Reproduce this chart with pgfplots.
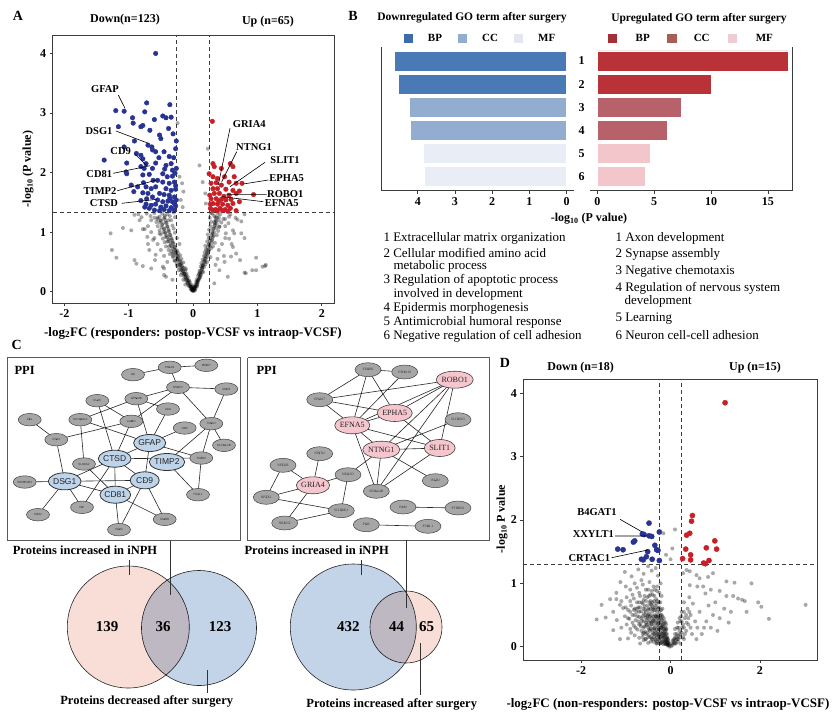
\documentclass[border=0pt]{standalone}
\usepackage{fontspec}
\setmainfont{Liberation Serif}
\newfontfamily\arialfont{Liberation Sans}
\usepackage{pgfplots}
\pgfplotsset{compat=1.18}
\usetikzlibrary{shapes.geometric}
\newcommand\fs[1]{\fontsize{#1}{#1}\selectfont}

\definecolor{ablue}{RGB}{40,52,148}
\definecolor{ared}{RGB}{200,32,38}
\definecolor{bpB}{RGB}{74,122,181}
\definecolor{ccB}{RGB}{147,173,208}
\definecolor{mfB}{RGB}{233,238,246}
\definecolor{bpR}{RGB}{185,50,55}
\definecolor{ccR}{RGB}{183,98,106}
\definecolor{mfR}{RGB}{243,198,203}
\definecolor{lgbpB}{RGB}{62,108,170}
\definecolor{lgmfB}{RGB}{228,232,238}
\definecolor{lgbpR}{RGB}{165,47,56}
\definecolor{lgccR}{RGB}{166,94,85}
\definecolor{lgmfR}{RGB}{237,205,209}
\definecolor{vpink}{RGB}{248,222,214}
\definecolor{vblue}{RGB}{196,212,232}
\definecolor{nblue}{RGB}{190,212,234}
\definecolor{npink}{RGB}{246,198,206}
\definecolor{frame}{RGB}{60,60,60}

\tikzset{
  gnode/.style={ellipse, draw=black!75, fill=gray!70, line width=0.5pt, inner sep=0pt,
    minimum width=23pt, minimum height=12.5pt, font=\arialfont\fs{3}, text=black!80},
  bnode/.style={ellipse, draw=black!80, fill=nblue, line width=0.8pt, inner sep=0pt,
    minimum width=29pt, minimum height=17pt, font=\arialfont\fs{8.5}, text=black!85},
  rgnode/.style={ellipse, draw=black!75, fill=gray!70, line width=0.5pt, inner sep=0pt,
    minimum width=26pt, minimum height=14pt, font=\fs{3.5}, text=black!80},
  pnode/.style={ellipse, draw=black!75, fill=npink, line width=0.6pt, inner sep=0pt,
    minimum width=31pt, minimum height=17pt, font=\fs{8}, text=black!85},
}
\pgfplotsset{
  greypt/.style={only marks, mark=*, mark size=2pt, mark options={fill=black, draw opacity=0, fill opacity=0.34}},
  sigpt/.style={only marks, mark=*, mark size=#1},
}

\begin{document}
\begin{tikzpicture}
\path[use as bounding box] (0pt,0pt) rectangle (832pt,720pt);

% ---------- A: volcano, responders
\begin{axis}[at={(52.7pt,417pt)}, anchor=south west, scale only axis,
  width=281.3pt, height=268pt,
  xmin=-2.18, xmax=2.19, ymin=-0.19, ymax=4.31,
  xtick={-2,-1,0,1,2}, xticklabels={-2,-1,0,1,2},
  ytick={0,1,2,3,4}, yticklabels={0,1,2,3,4},
  tick pos=left, tick align=outside, major tick length=3pt,
  ticklabel style={font=\bfseries\fs{12}},
  axis line style={frame, line width=0.8pt}, tick style={frame, line width=0.6pt}]
% not significant
\addplot[greypt] coordinates {
(-1.28,0.98) (-1.09,1.07) (-0.96,1.03) (-0.78,1.05) (-0.71,0.92) (-1.26,0.70) (-1.19,0.57) (-0.91,0.53)
(-0.88,0.47) (-0.78,0.43) (-0.65,0.39) (-0.45,0.39) (-0.32,0.20) (-0.45,0.28) (-0.91,1.29) (-0.83,1.20)
(-0.65,1.20) (-0.52,0.98) (-0.62,0.87) (-0.68,0.70) (-0.59,0.53) (-0.47,0.42) (-0.42,0.25) (-0.32,0.64)
(0.56,0.89) (0.62,0.75) (0.67,0.64) (0.73,0.53) (0.82,0.31) (0.98,0.57) (1.08,0.42) (1.13,0.45) (0.92,0.36)
(0.80,0.32) (0.98,0.36) (1.12,0.43) (0.80,0.90) (0.64,0.98) (0.59,0.59) (0.49,0.50) (0.41,0.36) (0.54,0.25)
(0.33,0.14) (0.33,1.17) (0.41,1.09) (0.51,0.98) (0.62,1.03) (0.75,0.98) (0.56,1.26) (0.69,1.21)
(-0.24,2.83) (0.10,2.12) (0.23,2.40) (0.15,1.84) (-0.21,1.93) (-0.17,1.82) (-0.15,1.68) (0.19,1.65)
(-0.19,1.54) (0.20,1.48) (-0.16,1.42)
(-0.85,1.30) (-0.80,1.25) (-0.72,1.31) (-0.66,1.27) (-0.60,1.32) (-0.55,1.22) (-0.44,1.28) (-0.38,1.20)
(-0.30,1.33) (0.28,1.32) (0.35,1.25) (0.42,1.30) (0.50,1.22) (0.58,1.30) (0.66,1.24) (0.75,1.18) (0.80,1.30)
(0,0.02) (-0.02,0.04) (0.02,0.03) (-0.04,0.06) (0.04,0.05) (-0.01,0.08) (0.01,0.07) (-0.06,0.10) (0.06,0.09)
(-0.03,0.12) (0.03,0.11) (-0.08,0.14) (0.07,0.13) (-0.05,0.16) (0.05,0.17)
(-0.12,0.20) (-0.09,0.22) (-0.06,0.19) (0.06,0.21) (0.09,0.20) (0.11,0.24) (-0.14,0.26) (-0.11,0.28)
(-0.08,0.25) (0.08,0.27) (0.12,0.29) (-0.17,0.31) (-0.13,0.30)
(-0.19,0.36) (-0.15,0.34) (-0.11,0.38) (0.10,0.35) (0.14,0.37) (0.16,0.33) (-0.22,0.41) (-0.17,0.43)
(-0.13,0.40) (0.12,0.42) (0.16,0.44) (-0.25,0.47) (-0.20,0.46) (-0.15,0.49) (0.13,0.48) (0.19,0.46)
(0.22,0.50) (-0.29,0.52)
(-0.24,0.53) (-0.18,0.55) (0.15,0.54) (0.20,0.56) (-0.31,0.58) (-0.26,0.60) (-0.20,0.61) (0.17,0.60)
(0.23,0.62) (0.27,0.58) (-0.36,0.63) (-0.30,0.66) (-0.23,0.65) (0.18,0.66) (0.24,0.68) (-0.38,0.70)
(-0.32,0.72) (-0.25,0.69) (0.20,0.71) (0.28,0.73)
(-0.42,0.76) (-0.35,0.78) (-0.28,0.75) (-0.21,0.80) (0.19,0.77) (0.25,0.79) (0.31,0.76) (-0.44,0.83)
(-0.38,0.85) (-0.31,0.82) (0.22,0.84) (0.29,0.86) (0.34,0.82) (-0.47,0.89) (-0.40,0.91) (-0.33,0.88)
(-0.25,0.90) (0.24,0.90) (0.31,0.92)
(-0.50,0.96) (-0.43,0.98) (-0.36,0.95) (-0.28,0.99) (0.23,0.96) (0.30,0.98) (0.37,0.95) (-0.52,1.03)
(-0.45,1.05) (-0.38,1.02) (-0.30,1.06) (0.25,1.04) (0.32,1.06) (0.39,1.02) (-0.55,1.10) (-0.48,1.12)
(-0.40,1.09) (-0.32,1.11) (0.27,1.10) (0.34,1.12) (0.41,1.09)
(-0.57,1.17) (-0.50,1.19) (-0.42,1.16) (-0.34,1.20) (0.28,1.17) (0.36,1.19) (0.44,1.16) (-0.60,1.24)
(-0.52,1.26) (-0.45,1.23) (-0.36,1.27) (-0.28,1.25) (0.26,1.24) (0.33,1.27) (0.40,1.25) (0.47,1.22)
(-0.48,1.31) (-0.40,1.30) (0.30,1.31) (0.38,1.32)
(-0.10,0.30) (-0.16,0.40) (-0.20,0.52) (-0.27,0.64) (-0.33,0.76) (-0.38,0.88) (-0.43,1.00) (-0.47,1.14)
(0.09,0.30) (0.14,0.40) (0.18,0.52) (0.22,0.64) (0.26,0.76) (0.30,0.88) (0.33,1.00) (0.37,1.14)
(-0.07,0.18) (0.07,0.17) (-0.03,0.09) (0.03,0.08) (-0.12,0.35) (-0.18,0.48) (-0.23,0.58) (-0.29,0.70)
(-0.35,0.82) (-0.41,0.94) (-0.45,1.06) (-0.50,1.20) (0.11,0.32) (0.15,0.44) (0.21,0.58) (0.25,0.70)
(0.29,0.82) (0.32,0.94) (0.36,1.07) (0.40,1.20)
(-0.60,0.90) (-0.55,0.80) (-0.50,0.70) (-0.45,0.60) (0.40,0.70) (0.45,0.80) (0.50,0.90) (0.38,0.55)
(-0.65,1.00) (-0.70,1.10) (0.50,1.10) (0.55,1.15) (-0.40,0.50) (0.35,0.45) (-0.70,0.80) (0.60,0.80)
(-0.75,1.05) (-0.58,0.62) (0.48,0.60)
(-0.01,0.03) (0.01,0.05) (-0.03,0.07) (0.03,0.06) (-0.05,0.11) (0.05,0.12) (-0.07,0.15) (0.06,0.15)
(-0.09,0.19) (0.08,0.19) (-0.11,0.24) (0.10,0.23) (-0.14,0.30) (0.12,0.27) (-0.17,0.37) (0.14,0.33)
(-0.21,0.45) (0.17,0.41) (-0.25,0.55) (0.19,0.50)
(-0.07,0.10) (-0.09,0.15) (-0.10,0.20) (-0.12,0.25) (-0.14,0.30) (-0.16,0.35) (-0.18,0.40) (-0.19,0.45)
(-0.21,0.50) (-0.23,0.55) (-0.24,0.60) (-0.26,0.65) (-0.27,0.70) (-0.29,0.75) (-0.30,0.80) (-0.32,0.85)
(-0.34,0.90) (-0.35,0.95) (-0.37,1.00) (-0.38,1.05) (-0.40,1.10) (-0.41,1.15) (-0.43,1.20) (-0.44,1.25)
(-0.12,0.12) (-0.15,0.20) (-0.19,0.28) (-0.22,0.36) (-0.25,0.44) (-0.28,0.52) (-0.31,0.60) (-0.34,0.68)
(-0.37,0.76) (-0.40,0.84) (-0.43,0.92) (-0.46,1.00) (-0.49,1.08) (-0.52,1.16) (-0.55,1.24)
(0.06,0.10) (0.07,0.15) (0.08,0.20) (0.10,0.25) (0.11,0.30) (0.12,0.35) (0.14,0.40) (0.15,0.45)
(0.17,0.50) (0.18,0.55) (0.19,0.60) (0.21,0.65) (0.22,0.70) (0.23,0.75) (0.25,0.80) (0.26,0.85)
(0.27,0.90) (0.29,0.95) (0.30,1.00) (0.31,1.05) (0.33,1.10) (0.34,1.15) (0.35,1.20) (0.37,1.25)
(0,0.01) (-0.01,0.02) (0.01,0.02) (0,0.04) (-0.02,0.06) (0.02,0.07) (-0.03,0.03) (0.03,0.02) (-0.04,0.09)
(0.04,0.09)
};
\addplot[frame, line width=0.9pt, dash pattern=on 4pt off 3pt] coordinates {(-0.26,-0.19) (-0.26,4.31)};
\addplot[frame, line width=0.9pt, dash pattern=on 4pt off 3pt] coordinates {(0.25,-0.19) (0.25,4.31)};
\addplot[frame, line width=0.9pt, dash pattern=on 4pt off 3pt] coordinates {(-2.18,1.33) (2.19,1.33)};
% down
\addplot[sigpt=2.3pt, color=ablue] coordinates {
(-0.58,4.00) (-1.20,3.04) (-1.07,3.03) (-0.72,3.17) (-0.36,3.14) (-0.75,3.02) (-0.94,2.92) (-0.93,2.83)
(-0.78,2.79) (-0.81,2.77) (-0.60,2.89) (-0.47,2.95) (-0.42,2.92) (-0.34,2.93) (-1.16,2.77) (-0.67,2.71)
(-0.38,2.74) (-0.52,2.63) (-0.31,2.65) (-0.91,2.53) (-0.70,2.46) (-0.64,2.43) (-0.50,2.57) (-0.26,2.53)
(-1.07,2.43) (-0.63,2.38) (-0.58,2.35) (-0.88,2.32) (-0.81,2.29) (-0.45,2.35) (-0.37,2.27) (-1.38,2.21)
(-0.78,2.23) (-0.73,2.15) (-1.03,2.16) (-0.58,2.16) (-0.42,2.12) (-0.34,2.15) (-0.81,2.10) (-0.76,2.07)
(-0.63,2.07) (-1.04,2.01) (-1.03,1.98) (-0.32,2.04) (-0.26,2.07) (-0.47,1.98) (-0.78,1.96) (-0.68,1.97)
(-0.40,1.93) (-0.32,1.94) (-0.55,1.87) (-0.47,1.84) (-0.62,1.87) (-0.77,1.83) (-0.96,1.79) (-0.37,1.82)
(-0.29,1.84) (-0.86,1.76) (-0.73,1.76) (-0.65,1.73) (-0.58,1.76) (-0.42,1.73) (-0.34,1.70) (-0.27,1.72)
(-0.92,1.68) (-0.78,1.66) (-0.70,1.65) (-0.52,1.65) (-0.45,1.63) (-0.37,1.62) (-0.29,1.59) (-0.63,1.59)
(-0.81,1.53) (-0.72,1.56) (-0.55,1.54) (-0.47,1.51) (-0.39,1.52) (-0.32,1.51) (-0.26,1.54) (-0.73,1.47)
(-0.65,1.45) (-0.58,1.47) (-0.50,1.42) (-0.42,1.44) (-0.34,1.41) (-0.27,1.44) (-0.60,1.37) (-0.52,1.36)
(-0.45,1.38) (-0.37,1.36) (-0.29,1.37) (-0.75,1.42) (-0.68,1.40) (-0.29,1.48) (-0.36,1.57) (-0.27,1.78)
(-0.28,1.99) (-0.30,2.25) (-0.27,2.40) (-0.44,2.06) (-0.53,2.25)
};
% up
\addplot[sigpt=2.3pt, color=ared] coordinates {
(0.30,2.86) (0.31,2.15) (0.33,2.10) (0.58,2.15) (0.62,2.10) (0.44,2.07) (0.25,1.98) (0.31,1.93) (0.38,1.90)
(0.49,1.93) (0.64,1.93) (0.56,1.84) (0.67,1.82) (0.76,1.82) (0.28,1.82) (0.36,1.83) (0.44,1.79) (0.31,1.73)
(0.38,1.73) (0.51,1.72) (0.62,1.70) (0.72,1.69) (0.94,1.63) (0.33,1.65) (0.41,1.65) (0.56,1.62) (0.67,1.65)
(0.28,1.56) (0.36,1.56) (0.44,1.55) (0.51,1.54) (0.59,1.55) (0.72,1.51) (0.31,1.48) (0.38,1.47) (0.46,1.47)
(0.54,1.45) (0.62,1.48) (0.27,1.40) (0.35,1.38) (0.42,1.40) (0.50,1.38) (0.58,1.40) (0.67,1.36) (0.31,1.37)
(0.38,1.36) (0.46,1.36) (0.54,1.35) (0.26,1.62) (0.27,1.47) (0.48,1.60) (0.40,1.52)
};
\end{axis}

% ---------- B left: downregulated GO terms
\begin{axis}[at={(381.7pt,529.3pt)}, anchor=south west, scale only axis,
  width=192.3pt, height=143.7pt,
  xmin=-4.97, xmax=0.2, ymin=0.38, ymax=6.62,
  axis x line*=bottom, axis y line*=left, axis line style={-, frame, line width=0.8pt},
  xtick={-4,-3,-2,-1,0}, xticklabels={4,3,2,1,0}, ytick=\empty,
  tick align=outside, major tick length=3pt, tick style={frame, line width=0.6pt},
  ticklabel style={font=\bfseries\fs{12}}]
\addplot[xbar, bar shift=0pt, bar width=0.87, fill=bpB, draw=white, line width=0.6pt] coordinates {(-4.62,6) (-4.53,5)};
\addplot[xbar, bar shift=0pt, bar width=0.87, fill=ccB, draw=white, line width=0.6pt] coordinates {(-4.22,4) (-4.19,3)};
\addplot[xbar, bar shift=0pt, bar width=0.87, fill=mfB, draw=white, line width=0.6pt] coordinates {(-3.84,2) (-3.82,1)};
\end{axis}

% ---------- B right: upregulated GO terms
\begin{axis}[at={(590pt,529.3pt)}, anchor=south west, scale only axis,
  width=202.7pt, height=144pt,
  xmin=-0.65, xmax=17.18, ymin=0.38, ymax=6.62,
  axis x line*=bottom, axis y line*=right, axis line style={-, frame, line width=0.8pt},
  xtick={0,5,10,15}, xticklabels={0,5,10,15}, ytick=\empty,
  tick align=outside, major tick length=3pt, tick style={frame, line width=0.6pt},
  ticklabel style={font=\bfseries\fs{12}}]
\addplot[xbar, bar shift=0pt, bar width=0.87, fill=bpR, draw=white, line width=0.6pt] coordinates {(16.75,6) (10.0,5)};
\addplot[xbar, bar shift=0pt, bar width=0.87, fill=ccR, draw=white, line width=0.6pt] coordinates {(7.42,4) (6.19,3)};
\addplot[xbar, bar shift=0pt, bar width=0.87, fill=mfR, draw=white, line width=0.6pt] coordinates {(4.63,2) (4.25,1)};
\end{axis}

% ---------- D: volcano, non-responders
\begin{axis}[at={(523.3pt,60pt)}, anchor=south west, scale only axis,
  width=294.4pt, height=280.7pt,
  xmin=-3.29, xmax=3.29, ymin=-0.21, ymax=4.22,
  xtick={-2,0,2}, xticklabels={-2,0,2},
  ytick={0,1,2,3,4}, yticklabels={0,1,2,3,4},
  tick pos=left, tick align=outside, major tick length=3pt,
  ticklabel style={font=\bfseries\fs{12}},
  axis line style={frame, line width=0.8pt}, tick style={frame, line width=0.6pt}]
\addplot[greypt] coordinates {
(-1.02,1.18) (-0.87,1.11) (-0.72,1.22) (-0.60,1.15) (-0.50,1.27) (-0.42,1.20) (-0.33,1.24) (-0.28,1.12)
(-0.65,1.05) (-0.80,1.00) (-1.12,1.02)
(-1.21,0.85) (-1.00,0.95) (-0.90,0.90) (-0.75,0.93) (-0.62,0.98) (-0.55,0.90) (-0.47,1.02) (-0.38,0.95)
(-0.30,0.88) (-0.22,1.00) (-0.85,0.82) (-0.70,0.85)
(-1.35,0.75) (-1.21,0.75) (-1.10,0.72) (-0.98,0.78) (-0.90,0.72) (-0.82,0.76) (-0.75,0.70) (-0.68,0.80)
(-0.60,0.74) (-0.52,0.78) (-0.45,0.72) (-0.40,0.82) (-0.32,0.75) (-0.26,0.70) (-0.20,0.80)
(-1.54,0.66) (-1.28,0.55) (-1.13,0.66) (-1.06,0.61) (-0.95,0.58) (-0.88,0.65) (-0.80,0.60) (-0.72,0.62)
(-0.66,0.56) (-0.58,0.64) (-0.50,0.60) (-0.44,0.66) (-0.37,0.58) (-0.30,0.62) (-0.24,0.56) (-0.18,0.60)
(-0.62,0.68) (-0.76,0.55)
(-1.65,0.43) (-1.45,0.46) (-1.20,0.42) (-1.02,0.48) (-0.92,0.44) (-0.85,0.50) (-0.78,0.42) (-0.70,0.47)
(-0.64,0.41) (-0.56,0.50) (-0.50,0.44) (-0.44,0.49) (-0.38,0.42) (-0.32,0.48) (-0.26,0.43) (-0.20,0.50)
(-0.15,0.45) (-0.60,0.52) (-0.48,0.52)
(-1.28,0.26) (-1.10,0.30) (-0.98,0.35) (-0.90,0.28) (-0.82,0.33) (-0.74,0.27) (-0.67,0.36) (-0.60,0.30)
(-0.54,0.34) (-0.48,0.27) (-0.42,0.35) (-0.36,0.29) (-0.30,0.34) (-0.25,0.27) (-0.19,0.32) (-0.14,0.28)
(-0.10,0.35) (-0.55,0.38) (-0.45,0.40)
(-1.13,0.12) (-0.95,0.13) (-0.80,0.18) (-0.70,0.14) (-0.62,0.20) (-0.55,0.12) (-0.48,0.18) (-0.42,0.13)
(-0.36,0.20) (-0.30,0.15) (-0.25,0.20) (-0.20,0.12) (-0.16,0.18) (-0.12,0.10) (-0.08,0.15) (-0.40,0.22)
(-0.33,0.10)
(-0.30,0.05) (-0.22,0.06) (-0.16,0.04) (-0.10,0.05) (-0.06,0.02) (-0.02,0.00) (0.02,0.01) (-0.12,0.08)
(-0.04,0.04)
(-0.65,0.45) (-0.55,0.55) (-0.45,0.60) (-0.35,0.50) (-0.28,0.40) (-0.38,0.35) (-0.50,0.30) (-0.60,0.40)
(-0.42,0.45) (-0.33,0.22) (-0.27,0.30) (-0.22,0.22) (-0.18,0.25) (-0.52,0.65) (-0.40,0.70) (-0.30,0.55)
(-0.25,0.62) (-0.57,0.24) (-0.46,0.25) (-0.36,0.40) (-0.30,0.08) (-0.24,0.14) (-0.18,0.08) (-0.14,0.14)
(-0.10,0.20) (-0.20,0.38) (-0.16,0.32) (-0.12,0.25) (-0.08,0.08) (-0.05,0.10) (-0.44,0.08) (-0.37,0.15)
(-0.35,0.65) (-0.28,0.48) (-0.22,0.30) (-0.48,0.38) (-0.40,0.28) (-0.32,0.38) (-0.26,0.18) (-0.52,0.48)
(-0.34,0.12) (-0.28,0.24) (-0.22,0.16) (-0.17,0.21) (-0.13,0.06) (-0.09,0.12) (-0.06,0.06) (-0.03,0.02)
(-0.41,0.55) (-0.35,0.44) (-0.29,0.36) (-0.24,0.46) (-0.19,0.42) (-0.46,0.33) (-0.39,0.19) (-0.31,0.27)
(-0.56,0.46) (-0.49,0.58) (-0.43,0.66) (-0.37,0.72) (-0.31,0.68) (-0.25,0.38) (-0.21,0.58) (-0.15,0.36)
(-0.80,0.50) (-0.75,0.60) (-0.70,0.35) (-0.65,0.25) (-0.60,0.60) (-0.55,0.20) (-0.50,0.50) (-0.45,0.15)
(-0.40,0.60) (-0.35,0.30) (-0.30,0.45) (-0.25,0.10) (-0.20,0.20) (-0.15,0.15) (-0.10,0.10) (-0.05,0.05)
(-0.70,0.55) (-0.62,0.48) (-0.58,0.32) (-0.53,0.42) (-0.47,0.47) (-0.43,0.38) (-0.39,0.48) (-0.34,0.58)
(-0.29,0.20) (-0.27,0.50) (-0.23,0.34) (-0.21,0.44) (-0.19,0.16) (-0.17,0.28) (-0.13,0.20) (-0.11,0.30)
(-0.09,0.04) (-0.07,0.14) (-0.55,0.72) (-0.48,0.80) (-0.42,0.88) (-0.36,0.80) (-0.30,0.95) (-0.25,0.85)
(-0.70,0.70) (-0.85,0.38) (-0.90,0.55) (-1.00,0.62) (-0.95,0.45) (-0.88,0.22) (-0.78,0.30) (-0.68,0.05)
(-0.60,0.10) (-0.50,0.06)
(-0.62,0.15) (-0.57,0.58) (-0.52,0.22) (-0.47,0.70) (-0.44,0.28) (-0.41,0.12) (-0.38,0.62) (-0.36,0.25)
(-0.33,0.48) (-0.31,0.18) (-0.28,0.60) (-0.26,0.28) (-0.24,0.05) (-0.22,0.50) (-0.20,0.30) (-0.18,0.48)
(-0.16,0.10) (-0.14,0.40) (-0.12,0.16) (-0.10,0.26) (-0.08,0.20) (-0.06,0.12) (-0.04,0.07) (-0.72,0.40)
(-0.68,0.62) (-0.66,0.32) (-0.64,0.70) (-0.58,0.80) (-0.50,0.90) (-0.45,0.82) (-0.40,0.40) (-0.38,0.08)
(-0.35,0.90) (-0.32,0.05) (-0.30,0.72) (-0.27,0.12) (-0.23,0.70) (-0.20,0.06) (-0.18,0.35) (-0.14,0.22)
(-0.12,0.04) (-0.11,0.38) (-0.09,0.28) (-0.07,0.03) (-0.50,0.15) (-0.53,0.35) (-0.56,0.12) (-0.60,0.22)
(-0.74,0.48) (-0.82,0.58)
(0.05,0.03) (0.08,0.06) (0.12,0.10) (0.16,0.08) (0.20,0.15) (0.10,0.14) (0.22,0.05) (0.05,0.10) (0.14,0.20)
(0.25,0.22) (0.30,0.12) (0.18,0.30) (0.28,0.35) (0.35,0.25) (0.22,0.40) (0.32,0.45) (0.40,0.35) (0.25,0.55)
(0.38,0.60) (0.45,0.50) (0.30,0.70) (0.50,0.68) (0.42,0.78) (0.55,0.40) (0.60,0.30) (0.48,0.20) (0.65,0.55)
(0.70,0.20) (0.58,0.12) (0.03,0.05) (0.07,0.09) (0.10,0.05) (0.13,0.15) (0.18,0.12)
(0.10,0.20) (0.15,0.30) (0.20,0.25) (0.25,0.40) (0.30,0.30) (0.35,0.50) (0.20,0.45) (0.12,0.05) (0.08,0.12)
(0.18,0.18) (0.28,0.15) (0.40,0.45) (0.45,0.30)
(0.15,0.12) (0.22,0.20) (0.26,0.30) (0.32,0.20) (0.36,0.38) (0.24,0.48) (0.30,0.55) (0.42,0.55) (0.16,0.38)
(0.10,0.28)
(0.28,1.16) (0.43,1.19) (0.95,1.16) (0.65,1.08) (1.25,1.03) (1.43,1.01) (1.81,1.00) (1.51,0.76) (1.60,0.74)
(1.66,0.72) (1.96,0.70) (2.03,0.63) (2.20,0.44) (3.02,0.66) (0.90,0.90) (0.78,0.84) (1.10,0.88) (1.00,0.70)
(0.85,0.65) (1.20,0.60) (1.35,0.55) (0.95,0.50) (1.10,0.45) (1.30,0.38) (0.80,0.40) (0.90,0.30) (1.05,0.25)
(0.75,0.30) (1.40,0.80) (1.70,0.55) (1.25,0.80) (0.60,0.95) (0.36,1.21) (0.58,1.13) (0.84,1.10) (0.43,0.97)
(0.73,0.95)
(0.10,1.85) (0.04,1.55) (-0.10,1.45) (0.00,1.38) (-0.16,1.79)
};
\addplot[frame, line width=0.9pt, dash pattern=on 4pt off 3pt] coordinates {(-0.25,-0.21) (-0.25,4.22)};
\addplot[frame, line width=0.9pt, dash pattern=on 4pt off 3pt] coordinates {(0.25,-0.21) (0.25,4.22)};
\addplot[frame, line width=0.9pt, dash pattern=on 4pt off 3pt] coordinates {(-3.29,1.30) (3.29,1.30)};
\addplot[sigpt=2.6pt, color=ablue] coordinates {
(-0.48,1.95) (-0.25,1.81) (-0.63,1.78) (-0.59,1.77) (-0.42,1.74) (-0.48,1.75) (-0.80,1.67) (-0.83,1.65)
(-0.35,1.60) (-0.31,1.53) (-0.28,1.52) (-1.18,1.54) (-1.06,1.53) (-0.51,1.50) (-0.54,1.42) (-0.61,1.37)
(-0.65,1.38) (-0.41,1.38) (-0.25,1.36)
};
\addplot[sigpt=2.6pt, color=ared] coordinates {
(0.49,2.07) (0.47,1.98) (0.43,1.79) (0.36,1.76) (0.99,1.67) (0.80,1.56) (1.03,1.54) (0.34,1.54) (0.45,1.45)
(0.27,1.39) (0.45,1.37) (0.86,1.36) (0.74,1.32) (1.22,3.85) (0.78,1.31)
};
\end{axis}

% ---------- Venn diagrams (picture pixel coordinates)
\begin{axis}[at={(0pt,0pt)}, anchor=south west, scale only axis,
  width=832pt, height=720pt, xmin=0, xmax=832, ymin=0, ymax=720, y dir=reverse,
  hide axis, clip=false]
\addplot[only marks, mark=*, mark size=61pt, mark options={fill=vpink, draw=gray!30!black, line width=0.6pt}] coordinates {(128.3,627)};
\addplot[only marks, mark=*, mark size=57.5pt, mark options={fill=vblue, draw=gray!30!black, line width=0.6pt, blend mode=multiply}] coordinates {(199,628)};
\addplot[only marks, mark=*, mark size=63pt, mark options={fill=vblue, draw=gray!30!black, line width=0.6pt}] coordinates {(353.3,627)};
\addplot[only marks, mark=*, mark size=36pt, mark options={fill=vpink, draw=gray!30!black, line width=0.6pt, blend mode=multiply}] coordinates {(406,627)};
\end{axis}

% ---------- overlay in picture pixels: texts, PPI networks
\begin{axis}[at={(0pt,0pt)}, anchor=south west, scale only axis,
  width=832pt, height=720pt, xmin=0, xmax=832, ymin=0, ymax=720, y dir=reverse,
  hide axis, clip=false]
% label leaders in A and D
\addplot[black, line width=0.6pt, unbounded coords=jump] coordinates {
(118.3,95) (125,108.3) (nan,nan) (116,131) (148.3,143.3) (nan,nan) (135,154) (146.7,165.7) (nan,nan)
(113.3,173.3) (150,165.7) (nan,nan) (117.3,190.7) (156.7,180) (nan,nan) (121.7,203.3) (156.7,199.3) (nan,nan)
(230,128.3) (218.3,185) (nan,nan) (236.7,151.7) (221.7,181.7) (nan,nan) (265,162.3) (230,186.7) (nan,nan)
(268.3,180) (243.3,184) (nan,nan) (266.7,194.3) (226.7,194.3) (nan,nan) (263.3,201.7) (221.7,196.7) (nan,nan)
(620,519.3) (641.7,531.7) (nan,nan) (615,536) (646.7,536) (nan,nan) (611.7,557.7) (647.7,550)
};
% PPI frames
\addplot[gray!70!black, line width=0.8pt] coordinates {(7.3,357.7) (240,357.7) (240,540.7) (7.3,540.7) (7.3,357.7)};
\addplot[gray!70!black, line width=0.8pt] coordinates {(247.7,357.7) (489.3,357.7) (489.3,540) (247.7,540) (247.7,357.7)};
% left network edges
\addplot[black!85, line width=0.6pt, unbounded coords=jump] coordinates {
(133,374.7) (169.7,367.3) (nan,nan) (169.7,367.3) (206.3,365.3) (nan,nan) (169.7,367.3) (178,387.3) (nan,nan)
(178,387.3) (226.3,389) (nan,nan) (178,387.3) (136.3,398.7) (nan,nan) (178,387.3) (131.3,421.3) (nan,nan)
(178,387.3) (211.3,423.7) (nan,nan) (226.3,389) (211.3,423.7) (nan,nan) (136.3,398.7) (168,409) (nan,nan)
(136.3,398.7) (80.3,419.7) (nan,nan) (136.3,398.7) (149.7,443) (nan,nan) (97.3,400.7) (131.3,421.3) (nan,nan)
(97.3,400.7) (114.7,458.7) (nan,nan) (29.7,419.7) (56.3,439.7) (nan,nan) (56.3,439.7) (131.3,421.3) (nan,nan)
(56.3,439.7) (64.7,481.3) (nan,nan) (80.3,419.7) (149.7,443) (nan,nan) (80.3,419.7) (84,464) (nan,nan)
(131.3,421.3) (114.7,458.7) (nan,nan) (168,409) (149.7,443) (nan,nan) (184.7,428) (149.7,443) (nan,nan)
(211.3,423.7) (167,462) (nan,nan) (211.3,423.7) (224,445.3) (nan,nan) (211.3,423.7) (201.3,458) (nan,nan)
(149.7,443) (114.7,458.7) (nan,nan) (149.7,443) (144.7,480.3) (nan,nan) (149.7,443) (201.3,458) (nan,nan)
(114.7,458.7) (201.3,458) (nan,nan) (114.7,458.7) (64.7,481.3) (nan,nan) (114.7,458.7) (115.3,494.7) (nan,nan)
(114.7,458.7) (144.7,480.3) (nan,nan) (114.7,458.7) (82,507.3) (nan,nan) (84,464) (115.3,494.7) (nan,nan)
(24.7,482) (64.7,481.3) (nan,nan) (64.7,481.3) (144.7,480.3) (nan,nan) (64.7,481.3) (115.3,494.7) (nan,nan)
(64.7,481.3) (38,514.7) (nan,nan) (64.7,481.3) (82,507.3) (nan,nan) (144.7,480.3) (115.3,494.7) (nan,nan)
(144.7,480.3) (164.7,519.3) (nan,nan) (144.7,480.3) (119,529.7) (nan,nan) (167,462) (198,494.7) (nan,nan)
(201.3,458) (198,494.7) (nan,nan) (115.3,494.7) (119,529.7) (nan,nan) (115.3,494.7) (164.7,519.3)
};
% right network edges
\addplot[black!85, line width=0.6pt, unbounded coords=jump] coordinates {
(368,369.7) (404.7,372) (nan,nan) (368,369.7) (319.7,399.7) (nan,nan) (368,369.7) (394.7,413) (nan,nan)
(368,369.7) (352.3,425.3) (nan,nan) (404.7,372) (352.3,425.3) (nan,nan) (319.7,399.7) (454.7,379.7) (nan,nan)
(319.7,399.7) (394.7,413) (nan,nan) (319.7,399.7) (352.3,425.3) (nan,nan) (352.3,425.3) (394.7,413) (nan,nan)
(352.3,425.3) (454.7,379.7) (nan,nan) (352.3,425.3) (381.3,449.7) (nan,nan) (352.3,425.3) (439.7,448) (nan,nan)
(352.3,425.3) (376.3,491.3) (nan,nan) (394.7,413) (439.7,448) (nan,nan) (394.7,413) (454.7,379.7) (nan,nan)
(454.7,379.7) (381.3,449.7) (nan,nan) (454.7,379.7) (439.7,448) (nan,nan) (454.7,379.7) (376.3,491.3) (nan,nan)
(381.3,449.7) (439.7,448) (nan,nan) (381.3,449.7) (458,419.7) (nan,nan) (381.3,449.7) (435.3,480.7) (nan,nan)
(381.3,449.7) (376.3,491.3) (nan,nan) (381.3,449.7) (348,474.7) (nan,nan) (439.7,448) (376.3,491.3) (nan,nan)
(319.7,453.7) (313,485.3) (nan,nan) (283,465.3) (313,485.3) (nan,nan) (283,465.3) (266.3,497.3) (nan,nan)
(266.3,497.3) (313,485.3) (nan,nan) (266.3,497.3) (341.3,510.7) (nan,nan) (313,485.3) (284.7,523) (nan,nan)
(348,474.7) (313,485.3) (nan,nan) (348,474.7) (341.3,510.7) (nan,nan) (284.7,523) (341.3,510.7) (nan,nan)
(403,507) (458,508) (nan,nan) (366.3,524.7) (428,526.3)
};
% network nodes
\addplot[scatter, only marks, mark=*, mark size=0.1pt, point meta=explicit symbolic,
  scatter/@pre marker code/.code={\node[gnode] at (0,0) {\pgfplotspointmeta};},
  scatter/@post marker code/.code={}] table[meta=lab] {
x y lab
133 374.7 PS
169.7 367.3 POLR1
206.3 365.3 MPRP
178 387.3 BSPP2
226.3 389 SOD3
97.3 400.7 CLN5
136.3 398.7 GPNMB
168 409 LGI1
29.7 419.7 CEL
80.3 419.7 SLC39A12
131.3 421.3 LGMN
184.7 428 CNP
211.3 423.7 TMOD
56.3 439.7 CPA4
224 445.3 OLFML2B
201.3 458 TGFB2
84 464 SLC3A2
24.7 482 SERPINB3
82 507.3 PIP
198 494.7 FSTL1
38 514.7 KRT2
164.7 519.3 UMOD
119 529.7 CD82
};
\addplot[scatter, only marks, mark=*, mark size=0.1pt, point meta=explicit symbolic,
  scatter/@pre marker code/.code={\node[bnode] at (0,0) {\pgfplotspointmeta};},
  scatter/@post marker code/.code={}] table[meta=lab] {
x y lab
149.7 443 GFAP
114.7 458.7 CTSD
167 462 TIMP2
64.7 481.3 DSG1
144.7 480.3 CD9
115.3 494.7 CD81
};
\addplot[scatter, only marks, mark=*, mark size=0.1pt, point meta=explicit symbolic,
  scatter/@pre marker code/.code={\node[rgnode] at (0,0) {\pgfplotspointmeta};},
  scatter/@post marker code/.code={}] table[meta=lab] {
x y lab
368 369.7 EPHB6
404.7 372 EPHA10
319.7 399.7 EPHA7
458 419.7 SLITRK5
319.7 453.7 NPTX2
283 465.3 NPTXR
348 474.7 NRXN3
435.3 480.7 ISLR2
376.3 491.3 SEMA4B
266.3 497.3 NPTX1
341.3 510.7 SLITRK1
403 507 PAM
458 508 PTPRN2
284.7 523 NRXN2
366.3 524.7 PVR
428 526.3 PVRL1
};
\addplot[scatter, only marks, mark=*, mark size=0.1pt, point meta=explicit symbolic,
  scatter/@pre marker code/.code={\node[pnode] at (0,0) {\pgfplotspointmeta};},
  scatter/@post marker code/.code={}] table[meta=lab] {
x y lab
454.7 379.7 ROBO1
394.7 413 EPHA5
352.3 425.3 EFNA5
381.3 449.7 NTNG1
439.7 448 SLIT1
313 485.3 GRIA4
};
% connectors
\addplot[gray!40!black, line width=0.6pt, unbounded coords=jump] coordinates {
(129.3,560) (129.3,575) (nan,nan) (170,540.7) (170,595) (nan,nan) (207.7,670) (207.7,693) (nan,nan)
(361,560) (361,575) (nan,nan) (406.7,540) (406.7,608) (nan,nan) (420.7,643) (420.7,695)
};
% legend squares for B
\addplot[only marks, mark=square*, mark size=4.2pt, color=lgbpB] coordinates {(408,38)};
\addplot[only marks, mark=square*, mark size=4.2pt, color=ccB] coordinates {(462,38)};
\addplot[only marks, mark=square*, mark size=4.2pt, color=lgmfB] coordinates {(518,38)};
\addplot[only marks, mark=square*, mark size=4.2pt, color=lgbpR] coordinates {(612,38)};
\addplot[only marks, mark=square*, mark size=4.2pt, color=lgccR] coordinates {(671.7,38)};
\addplot[only marks, mark=square*, mark size=4.2pt, color=lgmfR] coordinates {(732.3,38)};

% panel letters and titles
\node[font=\bfseries\fs{14}] at (axis cs:18,16) {A};
\node[font=\bfseries\fs{14}] at (axis cs:353,16) {B};
\node[font=\bfseries\fs{14}] at (axis cs:16.7,345) {C};
\node[font=\bfseries\fs{14}] at (axis cs:505,363) {D};
\node[font=\bfseries\fs{12}] at (axis cs:125,20) {Down(n=123)};
\node[font=\bfseries\fs{12}] at (axis cs:268,22) {Up (n=65)};
\node[font=\bfseries\fs{13}] at (axis cs:193,333) {-log\textsubscript{2}FC (responders: postop-VCSF vs intraop-VCSF)};
\node[font=\bfseries\fs{12}, rotate=90] at (axis cs:28,169) {-log\textsubscript{10} (P value)};
% gene labels in A
\node[font=\bfseries\fs{10.5}] at (axis cs:105,89.3) {GFAP};
\node[font=\bfseries\fs{10.5}] at (axis cs:99,131) {DSG1};
\node[font=\bfseries\fs{10.5}] at (axis cs:120.7,150.7) {CD9};
\node[font=\bfseries\fs{10.5}] at (axis cs:99.3,174.3) {CD81};
\node[font=\bfseries\fs{10.5}] at (axis cs:100,191) {TIMP2};
\node[font=\bfseries\fs{10.5}] at (axis cs:104,203.3) {CTSD};
\node[font=\bfseries\fs{10.5}] at (axis cs:249.3,124.3) {GRIA4};
\node[font=\bfseries\fs{10.5}] at (axis cs:254,146.7) {NTNG1};
\node[font=\bfseries\fs{10.5}] at (axis cs:285,160) {SLIT1};
\node[font=\bfseries\fs{10.5}] at (axis cs:286.7,178.3) {EPHA5};
\node[font=\bfseries\fs{10.5}] at (axis cs:285.3,194) {ROBO1};
\node[font=\bfseries\fs{10.5}] at (axis cs:281.7,203.3) {EFNA5};
% B texts
\node[font=\bfseries\fs{11.5}] at (axis cs:472,18) {Downregulated GO term after surgery};
\node[font=\bfseries\fs{11.5}] at (axis cs:699,19) {Upregulated GO term after surgery};
\node[font=\bfseries\fs{11}] at (axis cs:435,38) {BP};
\node[font=\bfseries\fs{11}] at (axis cs:490,38) {CC};
\node[font=\bfseries\fs{11}] at (axis cs:546.7,38) {MF};
\node[font=\bfseries\fs{11}] at (axis cs:642.7,38) {BP};
\node[font=\bfseries\fs{11}] at (axis cs:701.7,38) {CC};
\node[font=\bfseries\fs{11}] at (axis cs:764.3,38) {MF};
\node[font=\bfseries\fs{12}] at (axis cs:581.7,60.8) {1};
\node[font=\bfseries\fs{12}] at (axis cs:581.7,84.2) {2};
\node[font=\bfseries\fs{12}] at (axis cs:581.7,107.3) {3};
\node[font=\bfseries\fs{12}] at (axis cs:581.7,130.3) {4};
\node[font=\bfseries\fs{12}] at (axis cs:581.7,153.3) {5};
\node[font=\bfseries\fs{12}] at (axis cs:581.7,176.3) {6};
\node[font=\bfseries\fs{12}] at (axis cs:589,218.7) {-log\textsubscript{10} (P value)};
\node[font=\fs{13}, anchor=west] at (axis cs:380,238) {1 Extracellular matrix organization};
\node[font=\fs{13}, anchor=west] at (axis cs:380,252.5) {2 Cellular modified amino acid};
\node[font=\fs{13}, anchor=west] at (axis cs:390,266) {metabolic process};
\node[font=\fs{13}, anchor=west] at (axis cs:380,280) {3 Regulation of apoptotic process};
\node[font=\fs{13}, anchor=west] at (axis cs:390,294) {involved in development};
\node[font=\fs{13}, anchor=west] at (axis cs:380,308) {4 Epidermis morphogenesis};
\node[font=\fs{13}, anchor=west] at (axis cs:380,322) {5 Antimicrobial humoral response};
\node[font=\fs{13}, anchor=west] at (axis cs:380,336) {6 Negative regulation of cell adhesion};
\node[font=\fs{13}, anchor=west] at (axis cs:612,238) {1 Axon development};
\node[font=\fs{13}, anchor=west] at (axis cs:612,254.7) {2 Synapse assembly};
\node[font=\fs{13}, anchor=west] at (axis cs:612,271.3) {3 Negative chemotaxis};
\node[font=\fs{13}, anchor=west] at (axis cs:612,288.3) {4 Regulation of nervous system};
\node[font=\fs{13}, anchor=west] at (axis cs:621,301.7) {development};
\node[font=\fs{13}, anchor=west] at (axis cs:612,318.3) {5 Learning};
\node[font=\fs{13}, anchor=west] at (axis cs:612,335) {6 Neuron cell-cell adhesion};
% C texts
\node[font=\bfseries\fs{12.5}, anchor=west] at (axis cs:11,370) {PPI};
\node[font=\bfseries\fs{12.5}, anchor=west] at (axis cs:253,370) {PPI};
\node[font=\bfseries\fs{12.5}] at (axis cs:85,550.7) {Proteins increased in iNPH};
\node[font=\bfseries\fs{12.5}] at (axis cs:316.7,550.7) {Proteins increased in iNPH};
\node[font=\bfseries\fs{12.5}] at (axis cs:146.7,701) {Proteins decreased after surgery};
\node[font=\bfseries\fs{12.5}] at (axis cs:391.7,704) {Proteins increased after surgery};
\node[font=\bfseries\fs{15}] at (axis cs:107,627) {139};
\node[font=\bfseries\fs{15}] at (axis cs:163,627) {36};
\node[font=\bfseries\fs{15}] at (axis cs:220,627) {123};
\node[font=\bfseries\fs{15}] at (axis cs:348.3,627) {432};
\node[font=\bfseries\fs{15}] at (axis cs:396.7,627) {44};
\node[font=\bfseries\fs{15}] at (axis cs:426.7,627) {65};
% D texts
\node[font=\bfseries\fs{12}] at (axis cs:580.7,367.7) {Down (n=18)};
\node[font=\bfseries\fs{12}] at (axis cs:755,367.7) {Up (n=15)};
\node[font=\bfseries\fs{13}] at (axis cs:668,704) {-log\textsubscript{2}FC (non-responders: postop-VCSF vs intraop-VCSF)};
\node[font=\bfseries\fs{12}, rotate=90] at (axis cs:502,519) {-log\textsubscript{10} P value};
\node[font=\bfseries\fs{10.5}] at (axis cs:597,511.7) {B4GAT1};
\node[font=\bfseries\fs{10.5}] at (axis cs:593.3,534) {XXYLT1};
\node[font=\bfseries\fs{10.5}] at (axis cs:589.3,557.7) {CRTAC1};
\end{axis}
\end{tikzpicture}
\end{document}
